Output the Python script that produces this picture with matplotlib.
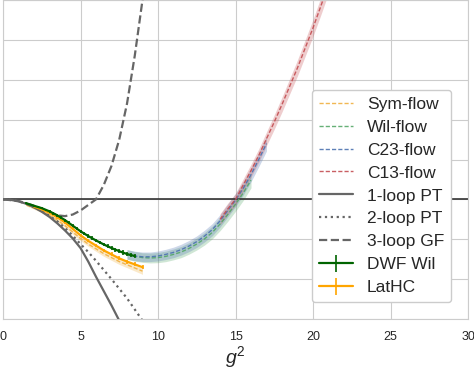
import numpy as np
import matplotlib
matplotlib.use("Agg")
import matplotlib.pyplot as plt
import seaborn as sns

# ==================================================
# data
# ==================================================
# perturbative curves
g2_pt = [0, 0.5, 1, 1.5, 2, 2.5, 3, 3.5, 4, 4.5, 5, 5.5, 6, 6.5, 7, 7.5, 8, 8.5, 9, 9.5]
one_loop = [0, -0.006, -0.025, -0.055, -0.1, -0.155, -0.22, -0.3, -0.39, -0.49,
            -0.61, -0.78, -0.97, -1.15, -1.33, -1.52, -1.72, -1.92, -2.12, -2.32]
two_loop = [0, -0.006, -0.024, -0.053, -0.095, -0.145, -0.205, -0.275, -0.36, -0.455,
            -0.56, -0.66, -0.77, -0.885, -1.0, -1.12, -1.24, -1.38, -1.52, -1.66]
g2_3loop = [0, 1, 2, 3, 3.5, 4, 4.5, 5, 5.5, 6, 6.5, 7, 7.5, 8, 8.5, 9, 9.5]
three_loop = [0, -0.02, -0.08, -0.16, -0.2, -0.21, -0.19, -0.14, -0.07, 0.0,
              0.18, 0.42, 0.75, 1.2, 1.8, 2.5, 3.3]

# DWF Wil
g2_dwf = [1.5, 1.75, 2.0, 2.25, 2.5, 2.75, 3.0, 3.25, 3.5, 3.75, 4.0, 4.25, 4.5, 4.75,
          5.0, 5.25, 5.5, 5.75, 6.0, 6.25, 6.5, 6.75, 7.0, 7.25, 7.5, 7.75, 8.0, 8.25, 8.5]
y_dwf = [-0.050, -0.064, -0.080, -0.095, -0.110, -0.130, -0.150, -0.175, -0.200, -0.230,
         -0.260, -0.295, -0.330, -0.365, -0.400, -0.430, -0.460, -0.488, -0.515, -0.540,
         -0.565, -0.588, -0.610, -0.630, -0.650, -0.668, -0.685, -0.698, -0.710]
err_dwf = [0.012, 0.012, 0.013, 0.013, 0.014, 0.015, 0.016, 0.017, 0.018, 0.018,
           0.019, 0.02, 0.02, 0.021, 0.021, 0.022, 0.022, 0.023, 0.023, 0.024,
           0.024, 0.025, 0.025, 0.026, 0.026, 0.027, 0.027, 0.028, 0.028]

# LatHC
g2_lathc = [2.0, 2.5, 3.0, 3.5, 4.0, 4.5, 5.0, 5.5, 6.0, 6.5, 7.0, 7.5, 8.0, 8.5, 9.0]
y_lathc = [-0.09, -0.125, -0.17, -0.225, -0.29, -0.37, -0.45, -0.52, -0.58, -0.64,
           -0.69, -0.74, -0.78, -0.815, -0.85]
err_lathc = [0.01, 0.012, 0.014, 0.015, 0.017, 0.018, 0.02, 0.02, 0.022, 0.022,
             0.024, 0.024, 0.025, 0.026, 0.027]

# gradient flow schemes
g2_sym = [1.5, 2, 2.5, 3, 3.5, 4, 4.5, 5, 5.5, 6, 6.5, 7, 7.5, 8, 8.5, 9]
y_sym = [-0.07, -0.11, -0.15, -0.2, -0.26, -0.33, -0.41, -0.49, -0.56, -0.62,
         -0.68, -0.73, -0.78, -0.82, -0.86, -0.9]
err_sym = [0.012, 0.014, 0.016, 0.018, 0.02, 0.022, 0.025, 0.028, 0.03, 0.032,
           0.034, 0.035, 0.036, 0.037, 0.038, 0.04]

g2_wil = [8, 8.5, 9, 9.5, 10, 10.5, 11, 11.5, 12, 12.5, 13, 13.5, 14, 14.5, 15, 15.5, 16]
y_wil = [-0.69, -0.715, -0.73, -0.735, -0.73, -0.715, -0.69, -0.66, -0.615, -0.56,
         -0.495, -0.415, -0.31, -0.19, -0.06, 0.08, 0.24]
err_wil = [0.06, 0.06, 0.06, 0.062, 0.064, 0.066, 0.068, 0.07, 0.072, 0.075,
           0.078, 0.08, 0.083, 0.086, 0.09, 0.093, 0.096]

g2_c23 = [8, 8.5, 9, 9.5, 10, 10.5, 11, 11.5, 12, 12.5, 13, 13.5, 14, 14.5, 15, 15.5, 16, 16.5, 17]
y_c23 = [-0.69, -0.71, -0.72, -0.72, -0.71, -0.69, -0.665, -0.63, -0.585, -0.53,
         -0.46, -0.38, -0.27, -0.14, -0.01, 0.14, 0.31, 0.5, 0.7]
err_c23 = [0.06, 0.06, 0.06, 0.06, 0.062, 0.064, 0.066, 0.068, 0.07, 0.072,
           0.074, 0.076, 0.078, 0.08, 0.082, 0.085, 0.088, 0.09, 0.093]

g2_c13 = [14, 14.5, 15, 15.5, 16, 16.5, 17, 17.5, 18, 18.5, 19, 19.5, 20, 20.5, 21]
y_c13 = [-0.25, -0.12, 0.0, 0.18, 0.36, 0.55, 0.76, 0.97, 1.19, 1.42, 1.65, 1.9, 2.15, 2.42, 2.7]
err_c13 = [0.07, 0.072, 0.075, 0.078, 0.08, 0.083, 0.086, 0.09, 0.093, 0.096,
           0.1, 0.103, 0.106, 0.11, 0.114]

# ==================================================
# style
# ==================================================
sns.set_style("whitegrid")
plt.rcParams['font.family'] = ['Liberation Sans', 'DejaVu Sans']
plt.rcParams['mathtext.fontset'] = 'custom'
plt.rcParams['mathtext.it'] = 'Liberation Sans:italic'
plt.rcParams['mathtext.rm'] = 'Liberation Sans'

c_sym = '#f0b040'
c_wil = '#55a868'
c_c23 = '#4c72b0'
c_c13 = '#c44e52'
c_pt = '#666666'
flow_ls = (0, (3, 1.5))

fig = plt.figure(figsize=(4.74, 3.87), dpi=100)
ax = fig.add_axes([3 / 474, 68 / 387, 465 / 474, 319 / 387])

# flow bands
for xs, ys, es, col, lab in [(g2_sym, y_sym, err_sym, c_sym, 'Sym-flow'),
                             (g2_wil, y_wil, err_wil, c_wil, 'Wil-flow'),
                             (g2_c23, y_c23, err_c23, c_c23, 'C23-flow'),
                             (g2_c13, y_c13, err_c13, c_c13, 'C13-flow')]:
    xs = np.array(xs)
    ys = np.array(ys)
    es = np.array(es)
    ax.fill_between(xs, ys - es, ys + es, color=col, alpha=0.28, lw=0, zorder=2)
    ax.plot(xs, ys, ls=flow_ls, lw=1.0, color=col, alpha=0.9, label=lab, zorder=3)

ax.axhline(0, color='#333333', lw=1.2, zorder=2.5)

# perturbation theory
ax.plot(g2_pt, one_loop, '-', color=c_pt, lw=1.6, label='1-loop PT', zorder=3)
ax.plot(g2_pt, two_loop, ':', color=c_pt, lw=1.6, label='2-loop PT', zorder=3)
ax.plot(g2_3loop, three_loop, '--', color=c_pt, lw=1.6, label='3-loop GF', zorder=3)

# lattice data
ax.errorbar(g2_dwf, y_dwf, yerr=err_dwf, color='darkgreen', lw=1.6, elinewidth=1.2,
            label='DWF Wil', zorder=5)
ax.errorbar(g2_lathc, y_lathc, yerr=err_lathc, color='orange', lw=1.6, elinewidth=1.2,
            label='LatHC', zorder=4)

ax.set_xlim(0, 30)
ax.set_ylim(-1.5, 2.5)
ax.set_xticks([0, 5, 10, 15, 20, 25, 30])
ax.set_yticks(np.arange(-1.5, 2.51, 0.5))
ax.set_yticklabels([])
ax.tick_params(axis='x', labelsize=9, pad=5)
ax.tick_params(axis='y', length=0)
ax.set_xlabel('$g^2$', fontsize=14, labelpad=1)

ax.legend(loc='lower right', bbox_to_anchor=(460 / 474, 1 - 311 / 387),
          bbox_transform=fig.transFigure, fontsize=12.5, labelspacing=0.45,
          handlelength=2.0, borderpad=0.4, framealpha=1.0)

plt.savefig('out.png', dpi=100)
